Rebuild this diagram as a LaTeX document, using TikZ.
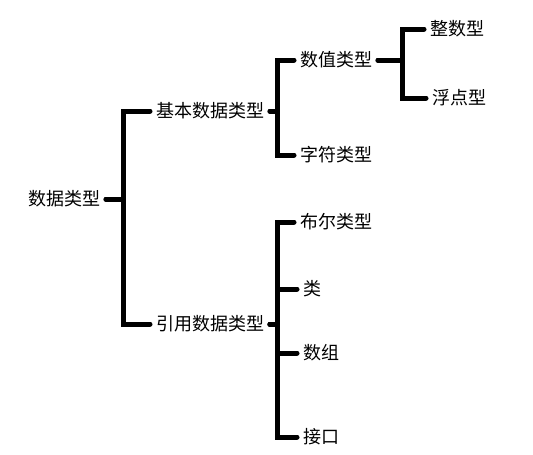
\documentclass[tikz,border=0pt]{standalone}
\usepackage{fontspec}
\setmainfont{Noto Sans CJK SC}
\usepackage{tikz}

\begin{document}
\begin{tikzpicture}[x=1pt, y=-1pt,
  tnode/.style={font=\fontsize{18}{18}\selectfont,inner sep=2pt,outer sep=4pt,anchor=west},
  branch/.style={line width=5pt,line cap=round}]
  \useasboundingbox (0,0) rectangle (533,455);
  \node[tnode] (root)  at (22,199)  {数据类型};
  \node[tnode] (basic) at (150,111) {基本数据类型};
  \node[tnode] (ref)   at (150,324) {引用数据类型};
  \node[tnode] (num)   at (294,60)  {数值类型};
  \node[tnode] (chr)   at (294,155) {字符类型};
  \node[tnode] (int)   at (424,29)  {整数型};
  \node[tnode] (flt)   at (426,98)  {浮点型};
  \node[tnode] (bool)  at (294,222) {布尔类型};
  \node[tnode] (cls)   at (297,289) {类};
  \node[tnode] (arr)   at (297,353) {数组};
  \node[tnode] (ifc)   at (297,437) {接口};
  % level 1
  \draw[branch] (root.east) -- ++(17,0) |- (basic.west);
  \draw[branch] (root.east) -- ++(17,0) |- (ref.west);
  % basic types
  \draw[branch] (basic.east) -- ++(7,0) |- (num.west);
  \draw[branch] (basic.east) -- ++(7,0) |- (chr.west);
  \draw[branch] (num.east)   -- ++(24,0) |- (int.west);
  \draw[branch] (num.east)   -- ++(24,0) |- (flt.west);
  % reference types
  \draw[branch] (ref.east) -- ++(7,0) |- (bool.west);
  \draw[branch] (ref.east) -- ++(7,0) |- (cls.west);
  \draw[branch] (ref.east) -- ++(7,0) |- (arr.west);
  \draw[branch] (ref.east) -- ++(7,0) |- (ifc.west);
\end{tikzpicture}
\end{document}
